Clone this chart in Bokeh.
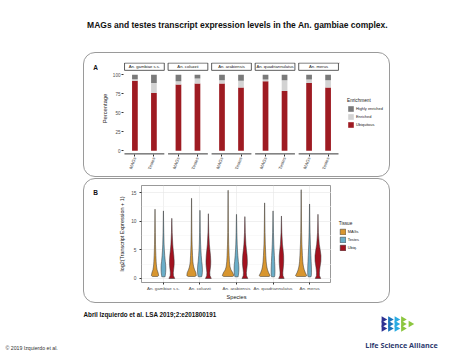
import math
from bokeh.plotting import figure
from bokeh.models import (Range1d, FactorRange, FixedTicker, Legend, LegendItem,
                          Spacer, ColumnDataSource)
from bokeh.layouts import column, row
from bokeh.embed import file_html
from bokeh.resources import INLINE
from bokeh.core.properties import value

# ---------------- data ----------------
TITLE = "MAGs and testes transcript expression levels in the An. gambiae complex."
CITATION = "Abril Izquierdo et al. LSA 2019;2:e201800191"
COPYRIGHT = "\u00a9 2019 Izquierdo et al."
JOURNAL = "Life Science Alliance"
PANEL_LABELS = ["A", "B"]

SPECIES = ["An. gambiae s.s.", "An. coluzzii", "An. arabiensis", "An. quadriannulatus", "An. merus"]

# Panel A: stacked percentages, order (species x tissue)
TISSUES_A = ["MAGs", "Testes"]
ENRICHMENT = ["Ubiquitous", "Enriched", "Highly enriched"]
UBIQUITOUS = [92, 76, 87, 88.5, 88.5, 83, 91.5, 78.5, 89, 83]
ENRICHED = [2, 13, 4.5, 6.5, 4, 9, 2, 14, 4.5, 9.5]
HIGHLY_ENRICHED = [6, 11, 8.5, 5, 7.5, 8, 6.5, 7.5, 6.5, 7.5]
PCT_TICKS = [0, 25, 50, 75, 100]

# Panel B: violins (species x tissue), half-widths in category units
TISSUES_B = ["MAGs", "Testes", "Ubiq."]
EXPR_TICKS = [0, 5, 10, 15]
EXPR_MINOR = [2.5, 7.5, 12.5]
EXPR_LEVELS = [0.5, 1.0, 1.5, 2.0, 2.5, 3.0, 4.0, 5.0, 6.0, 8.0, 10.0]
VIOLIN_BOTTOM = [0.35, 0.3, 0.0, 0.35, 0.3, 0.0, 0.35, 0.3, 0.0, 0.35, 0.3, 0.0, 0.35, 0.3, 0.0]
VIOLIN_TOP = [12.1, 11.8, 10.5, 14.0, 11.9, 11.3, 15.4, 11.2, 10.8, 13.2, 11.8, 10.9, 15.5, 13.0, 11.2]
VIOLIN_BASE_HW = [0.07, 0.045, 0.08, 0.09, 0.045, 0.08, 0.12, 0.045, 0.08,
                  0.12, 0.04, 0.075, 0.12, 0.04, 0.075]
VIOLIN_HW = [
    [0.10, 0.085, 0.058, 0.045, 0.036, 0.031, 0.024, 0.018, 0.014, 0.009, 0.005],
    [0.05, 0.06, 0.065, 0.065, 0.06, 0.05, 0.036, 0.025, 0.018, 0.010, 0.005],
    [0.045, 0.04, 0.048, 0.058, 0.064, 0.065, 0.055, 0.038, 0.025, 0.010, 0.004],
    [0.13, 0.12, 0.085, 0.06, 0.045, 0.036, 0.027, 0.020, 0.015, 0.009, 0.006],
    [0.055, 0.065, 0.068, 0.064, 0.058, 0.048, 0.035, 0.025, 0.018, 0.010, 0.005],
    [0.045, 0.04, 0.048, 0.058, 0.064, 0.066, 0.058, 0.042, 0.027, 0.011, 0.004],
    [0.16, 0.13, 0.08, 0.055, 0.044, 0.036, 0.028, 0.022, 0.016, 0.010, 0.007],
    [0.05, 0.06, 0.065, 0.065, 0.06, 0.05, 0.037, 0.026, 0.019, 0.010, 0.005],
    [0.045, 0.04, 0.048, 0.058, 0.066, 0.068, 0.06, 0.042, 0.027, 0.011, 0.004],
    [0.15, 0.11, 0.08, 0.062, 0.05, 0.042, 0.032, 0.025, 0.018, 0.011, 0.007],
    [0.048, 0.052, 0.052, 0.05, 0.047, 0.043, 0.036, 0.028, 0.021, 0.012, 0.006],
    [0.042, 0.038, 0.044, 0.052, 0.058, 0.062, 0.06, 0.045, 0.028, 0.011, 0.004],
    [0.155, 0.115, 0.085, 0.065, 0.052, 0.044, 0.034, 0.027, 0.020, 0.012, 0.008],
    [0.048, 0.052, 0.052, 0.05, 0.047, 0.043, 0.036, 0.029, 0.022, 0.013, 0.007],
    [0.042, 0.04, 0.046, 0.056, 0.068, 0.08, 0.082, 0.06, 0.035, 0.012, 0.004],
]

# ---------------- style ----------------
FONT_NAME = "Liberation Sans"
FONT = value(FONT_NAME)
RED_A = "#9E1B22"
LGREY = "#D3D3D3"
DGREY = "#7A7A7A"
ENRICH_COLORS = [RED_A, LGREY, DGREY]
TISSUE_COLORS = ["#D8962F", "#6AAEC9", "#A3121F"]
DODGE = [-0.23, 0.0, 0.23]
TXT = "#4D4D4D"
BOX_STYLE = {"outline": "1px solid #9A9A9A", "outline-offset": "0px", "border-radius": "11px"}
H = 123


def canvas_fig(w, h, top, bottom):
    f = figure(width=w, height=h, x_range=Range1d(0, w), y_range=Range1d(bottom, top),
               x_axis_type=None, y_axis_type=None, output_backend="svg",
               toolbar_location=None, min_border=0)
    f.grid.visible = False
    f.outline_line_color = None
    f.background_fill_alpha = 0
    f.border_fill_alpha = 0
    return f


def style_axis(ax, label_size, title, title_size):
    ax.axis_line_color = None
    ax.major_tick_out = 2
    ax.major_tick_in = 0
    ax.minor_tick_line_color = None
    ax.major_tick_line_color = "#333333"
    ax.major_label_text_font = FONT_NAME
    ax.major_label_text_font_size = label_size
    ax.major_label_text_color = TXT
    ax.major_label_standoff = 1
    if title:
        ax.axis_label = title
        ax.axis_label_text_font = FONT_NAME
        ax.axis_label_text_font_size = title_size
        ax.axis_label_text_font_style = "normal"
        ax.axis_label_text_color = "#1A1A1A"


def legend_fig(w, title, labels, kind, colors, loc):
    # legend-only figure: its swatch renderers sit outside the visible range
    f = canvas_fig(w, H, 0, H)
    items = []
    for lab, c in zip(labels, colors):
        if kind == "bar":
            r = f.vbar(x=[-1000], top=[1], width=1, fill_color=c, line_color=None)
        else:
            r = f.patches(xs=[[-1000, -999, -999]], ys=[[0, 0, 1]], fill_color=c,
                          line_color="#333333", line_width=0.5)
        items.append(LegendItem(label=lab, renderers=[r]))
    lg = Legend(items=items, location=loc, title=title)
    lg.title_text_font = FONT_NAME
    lg.title_text_font_size = "4.7px"
    lg.title_text_font_style = "normal"
    lg.title_text_color = "#1A1A1A"
    lg.title_standoff = 2
    lg.label_text_font = FONT_NAME
    lg.label_text_font_size = "3.9px"
    lg.label_text_color = "#1A1A1A"
    lg.glyph_width = 7
    lg.glyph_height = 7
    lg.label_height = 7
    lg.label_standoff = 2
    lg.spacing = 1
    lg.padding = 0
    lg.margin = 0
    lg.border_line_color = None
    lg.background_fill_alpha = 0
    f.add_layout(lg)
    return f


def label_fig(text, ty):
    f = canvas_fig(14, H, 0, H)
    f.text(x=[8.7], y=[ty], text=[text], text_font=FONT, text_font_style="bold",
           text_font_size="6.5px", text_align="left", text_baseline="middle", text_color="#111111")
    return f


# ---------------- title ----------------
ptitle = canvas_fig(474, 52, 0, 52)
ptitle.text(x=[237], y=[24], text=[TITLE], text_font=FONT, text_font_style="bold",
            text_font_size="8.5px", text_align="center", text_baseline="middle", text_color="#111111")

# ---------------- panel A ----------------
factors = [(s, t) for s in SPECIES for t in TISSUES_A]
xr = FactorRange(*factors, factor_padding=0, group_padding=0.29, range_padding=0.1,
                 range_padding_units="absolute")
pA = figure(width=241, height=H, x_range=xr, y_range=Range1d(-5, 116),
            output_backend="svg", toolbar_location=None,
            min_border_left=22, min_border_right=0, min_border_top=9, min_border_bottom=22)
pA.grid.visible = False
pA.outline_line_color = None
srcA = ColumnDataSource(dict(x=factors, Ubiquitous=UBIQUITOUS, Enriched=ENRICHED,
                             **{"Highly enriched": HIGHLY_ENRICHED}))
pA.vbar_stack(ENRICHMENT, x="x", width=0.3, color=ENRICH_COLORS, line_color=None, source=srcA)
# facet strips
pA.rect(x=SPECIES, y=110.5, width=2.09, height=9.6, fill_color="white",
        line_color="#333333", line_width=0.8)
pA.text(x=SPECIES, y=[110.5] * len(SPECIES), text=SPECIES, text_font=FONT,
        text_font_size="4.2px", text_align="center", text_baseline="middle", text_color="#1A1A1A")
# facet axis lines
pA.rect(x=SPECIES, y=-4.4, width=2.09, height=0.001, fill_color=None,
        line_color="#333333", line_width=0.8)

ya = pA.yaxis[0]
ya.ticker = FixedTicker(ticks=PCT_TICKS)
style_axis(ya, "4.6px", "Percentage", "5.8px")
ya.axis_label_standoff = 2

xa = pA.xaxis[0]
style_axis(xa, "4.4px", None, None)
xa.major_label_orientation = 1.2
xa.separator_line_color = None
xa.group_text_alpha = 0
xa.group_text_font_size = "2px"

legA_fig = legend_fig(50, "Enrichment", ENRICHMENT[::-1], "bar", ENRICH_COLORS[::-1], (8, 26))

# ---------------- panel B ----------------
pB = figure(width=233, height=H, x_range=Range1d(0.4, 5.6), y_range=Range1d(-0.7, 16.24),
            output_backend="svg", toolbar_location=None,
            min_border_left=43, min_border_right=0, min_border_top=6, min_border_bottom=15)
pB.outline_line_color = "#7F7F7F"
pB.outline_line_width = 0.8
for j, t in enumerate(TISSUES_B):
    xs_all, ys_all = [], []
    for i, sp in enumerate(SPECIES):
        k = i * len(TISSUES_B) + j
        cx = (i + 1) + DODGE[j]
        ys = [VIOLIN_BOTTOM[k]] + EXPR_LEVELS + [VIOLIN_TOP[k]]
        hw = [VIOLIN_BASE_HW[k]] + VIOLIN_HW[k] + [0.002]
        xs_all.append([cx + w for w in hw] + [cx - w for w in reversed(hw)])
        ys_all.append(ys + ys[::-1])
    pB.patches(xs=xs_all, ys=ys_all, fill_color=TISSUE_COLORS[j],
               line_color="#333333", line_width=0.5)

xb = pB.xaxis[0]
xb.ticker = FixedTicker(ticks=list(range(1, len(SPECIES) + 1)))
xb.major_label_overrides = {i + 1: s for i, s in enumerate(SPECIES)}
style_axis(xb, "4.4px", "Species", "5.6px")
xb.axis_label_standoff = 0

yb = pB.yaxis[0]
yb.ticker = FixedTicker(ticks=EXPR_TICKS, minor_ticks=EXPR_MINOR)
style_axis(yb, "4.8px", "log2(Transcript Expression + 1)", "5.4px")
yb.axis_label_standoff = 3

pB.xgrid.ticker = FixedTicker(ticks=list(range(1, len(SPECIES) + 1)))
pB.ygrid.ticker = FixedTicker(ticks=EXPR_TICKS, minor_ticks=EXPR_MINOR)
pB.grid.grid_line_color = "#E6E6E6"
pB.grid.grid_line_width = 0.6
pB.ygrid.minor_grid_line_color = "#F2F2F2"
pB.ygrid.minor_grid_line_width = 0.5

legB_fig = legend_fig(58, "Tissue", TISSUES_B, "patch", TISSUE_COLORS, (7.7, 31))

rowA = row(label_fig(PANEL_LABELS[0], 6.8), pA, legA_fig, styles=BOX_STYLE)
rowB = row(label_fig(PANEL_LABELS[1], 9.5), pB, legB_fig, styles=BOX_STYLE)

# ---------------- footer ----------------
LOGO_X = [383, 389.5, 396, 402.5, 383, 389.5, 396, 402.5, 410, 383, 389.5, 396, 402.5]
LOGO_Y = [319, 319, 319, 319, 323.5, 323.5, 323.5, 323.5, 323.5, 328, 328, 328, 328]
LOGO_C = ["#2E3192", "#1B75BB", "#29ABE2", "#8CC63F",
          "#2E3192", "#1B75BB", "#29ABE2", "#8CC63F", "#8CC63F",
          "#2E3192", "#1B75BB", "#29ABE2", "#8CC63F"]
pfoot = canvas_fig(474, 52, 303, 355)
pfoot.text(x=[83], y=[313.5], text=[CITATION], text_font=FONT, text_font_style="bold",
           text_font_size="6.3px", text_align="left", text_baseline="middle", text_color="#111111")
pfoot.text(x=[5], y=[347], text=[COPYRIGHT], text_font=FONT,
           text_font_size="5.2px", text_align="left", text_baseline="middle", text_color="#333333")
pfoot.text(x=[401], y=[344], text=[JOURNAL], text_font=value("Open Sans"), text_font_style="bold",
           text_font_size="7.2px", text_align="center", text_baseline="middle", text_color="#2E3A6E")
pfoot.scatter(x=LOGO_X, y=LOGO_Y, marker="triangle", size=6.5, angle=-math.pi / 2,
              fill_color=LOGO_C, line_color=None)

middle = row(Spacer(width=84, height=251),
             column(Spacer(width=305, height=1), rowA, Spacer(width=305, height=3), rowB,
                    Spacer(width=305, height=1)),
             Spacer(width=85, height=251))
layout = column(ptitle, middle, pfoot)

open("out.html", "w").write(file_html(layout, INLINE))
